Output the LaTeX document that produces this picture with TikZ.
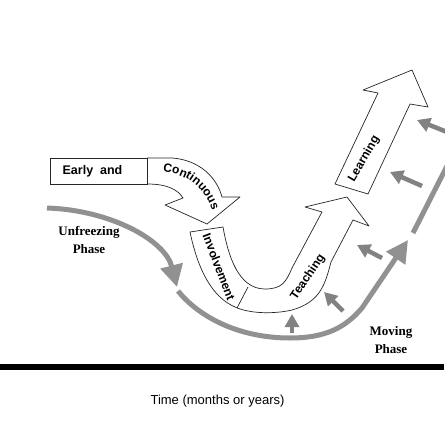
\documentclass[tikz,border=0pt]{standalone}
\usepackage{fontspec}
\setmainfont{Liberation Serif}
\setsansfont{Liberation Sans}
\usetikzlibrary{arrows.meta,decorations.text}
\definecolor{ggray}{RGB}{145,145,145}
\definecolor{agray}{RGB}{130,130,130}
\begin{document}
\begin{tikzpicture}[x=1pt,y=1pt,
  outline/.style={draw=black!85, line width=0.7pt, fill=white, line join=round},
  bigflow/.style={draw=ggray, line width=5pt, -{Triangle[length=22pt,width=22pt]}},
  smallflow/.style={draw=agray, line width=4.5pt, -{Triangle[length=13pt,width=14pt]}},
  lab/.style={font=\sffamily\bfseries\fontsize{12}{14}\selectfont, inner sep=0pt},
  phase/.style={font=\rmfamily\bfseries\fontsize{13}{17.5}\selectfont, align=center, inner sep=0pt}]
\useasboundingbox (0,0) rectangle (444,-444);
\fill[white] (0,0) rectangle (444,-444);

% gray flow arrows
\draw[bigflow] (47,-208) .. controls (110,-210) and (165,-240) .. (177,-287);
\draw[bigflow] (178,-291) .. controls (200,-318) and (240,-338) .. (290,-338)
   .. controls (325,-338) and (345,-328) .. (362,-308) -- (408,-240);
\draw[ggray, line width=5pt] (413,-233) -- (447,-166);

\coordinate (a1) at (292,-333); \coordinate (b1) at (292,-314);
\coordinate (a2) at (343,-311); \coordinate (b2) at (324,-292);
\coordinate (a3) at (382,-258); \coordinate (b3) at (357,-245);
\coordinate (a4) at (422,-186); \coordinate (b4) at (390,-172);
\coordinate (a5) at (447,-132); \coordinate (b5) at (417,-120);
\foreach \i in {1,...,5} {\draw[smallflow] (a\i) -- (b\i);}

% Continuous arrow
\path[outline] (147,-158) -- (172,-158) .. controls (200,-160) and (217,-178) .. (222,-197)
  -- (240,-197) -- (207,-224) -- (165,-205) -- (183,-198)
  .. controls (178,-190) and (168,-184) .. (147,-184);
\path[decorate, decoration={text along path, text align=center,
  text={|\sffamily\bfseries\fontsize{12}{14}\selectfont|Continuous}}]
  (153,-171) .. controls (186,-171) and (208,-188) .. (215,-220);

% Early and box
\node[draw=black!85, line width=0.7pt, minimum width=97pt, minimum height=26pt,
  anchor=north west, inner sep=0pt] (box) at (50,-158) {};
\node[lab, font=\sffamily\bfseries\fontsize{12.5}{14}\selectfont] (early) at (92.5,-171.5) {Early\ \ and};

% U arrow
\path[outline] (190,-232) -- (223,-227)
  .. controls (228,-255) and (238,-289) .. (265,-289)
  .. controls (282,-289) and (286,-282) .. (292,-268) -- (322,-212)
  -- (305,-207) -- (347,-197) -- (369,-226) -- (353,-220)
  -- (331,-262) .. controls (325,-285) and (320,-302) .. (292,-310)
  .. controls (275,-314) and (250,-314) .. (235,-307)
  .. controls (212,-297) and (198,-270) .. (190,-232) -- cycle;
\draw[black!85, line width=0.7pt] (248,-287) -- (237,-308);

% Learning arrow
\path[outline] (335,-184) -- (378,-93) -- (363,-90) -- (412,-70) -- (428,-107)
  -- (410,-104) -- (368,-194) -- cycle;

\node[lab, rotate=-69] (inv) at (219,-267) {Involvement};
\node[lab, rotate=56] (teach) at (308,-277) {Teaching};
\node[lab, rotate=60] (learn) at (364,-159) {Learning};

% phase labels
\node[phase] (unf) at (89,-240) {Unfreezing\\Phase};
\node[phase] (mov) at (391,-340) {Moving\\Phase};

% axis
\draw[line width=5.5pt] (0,-367) -- (444,-367);
\node[font=\sffamily\fontsize{13}{15}\selectfont, inner sep=0pt] (time) at (217.5,-401) {Time (months or years)};
\end{tikzpicture}
\end{document}
